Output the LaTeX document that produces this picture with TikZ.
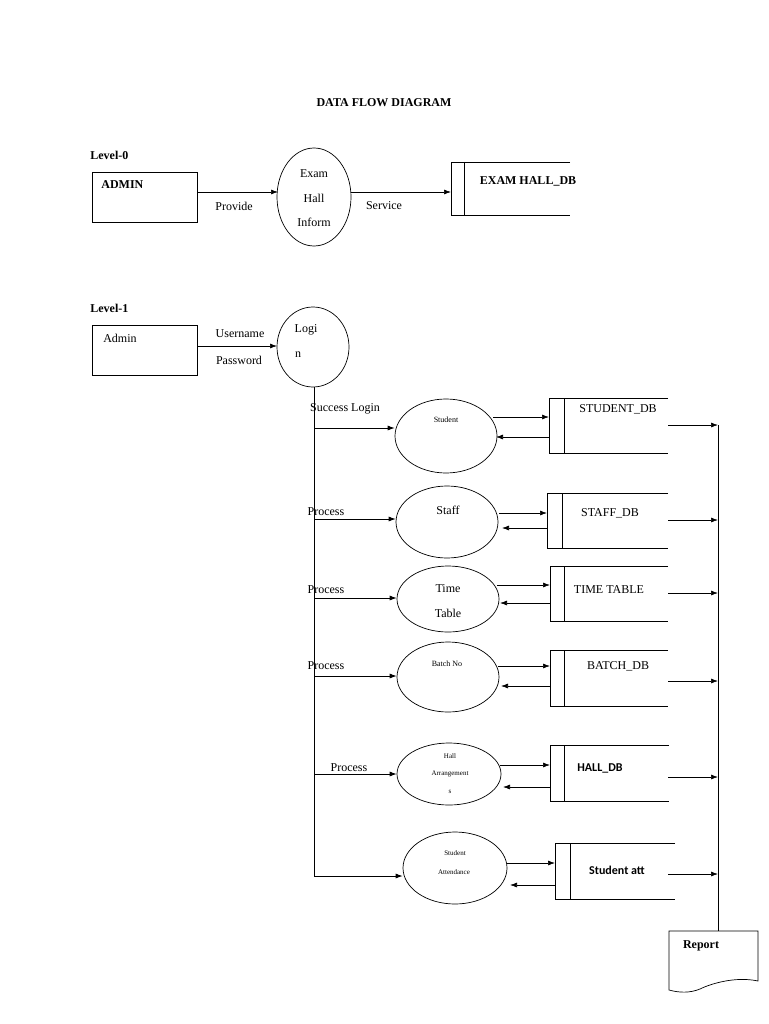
\documentclass[tikz,border=0pt]{standalone}
\usepackage{fontspec}
\setmainfont{Liberation Serif}
\newfontfamily\carlitofont{Carlito}
\usetikzlibrary{arrows.meta,shapes.geometric}
\begin{document}
\begin{tikzpicture}[x=1pt,y=-1pt,
  every node/.style={font=\fontsize{12}{14}\selectfont},
  proc/.style={draw,ellipse,inner sep=0pt},
  arr/.style={-{Latex[length=7pt,width=5pt]}},
  lbl/.style={inner sep=0pt},
  small/.style={font=\fontsize{8}{10}\selectfont, inner sep=0pt}]
\useasboundingbox (0,0) rectangle (768,1024);
\tikzset{every path/.style={line width=0.7pt}}
\newcommand{\dstore}[6]{% name, left, second, top, bottom, right
  \draw (#6,#4) -- (#2,#4) -- (#2,#5) -- (#6,#5);
  \draw (#3,#4) -- (#3,#5);
  \coordinate (#1L) at (#2,{(#4+#5)/2});}
\node[lbl,font=\bfseries\fontsize{12}{14}\selectfont] (title) at (384,103) {DATA FLOW DIAGRAM};
% Level 0
\node[lbl,font=\bfseries\fontsize{12}{14}\selectfont,anchor=west] (l0) at (90,155) {Level-0};
\node[draw,minimum width=105pt,minimum height=50pt] (admin0) at (144.5,197) {};
\node[lbl,font=\bfseries\fontsize{12}{14}\selectfont,anchor=west] (admint) at (101,185) {ADMIN};
\node[proc,minimum width=74pt,minimum height=98pt] (ehi) at (314,197) {};
\node[lbl] (e1) at (314,174) {Exam};
\node[lbl] (e2) at (314,198) {Hall};
\node[lbl] (e3) at (314,222) {Inform};
\dstore{db0}{451}{464}{162}{215}{570}
\node[lbl,font=\bfseries\fontsize{12}{14}\selectfont] (db0t) at (528,181) {EXAM HALL\_DB};
\coordinate (a0) at (197,192); \coordinate (a0e) at (278,192);
\draw[arr] (a0) -- (a0e);
\coordinate (s0) at (351,192); \coordinate (s0e) at (451,192);
\draw[arr] (s0) -- (s0e);
\node[lbl] (prov) at (234,206) {Provide};
\node[lbl] (serv) at (384,206) {Service};
% Level 1
\node[lbl,font=\bfseries\fontsize{12}{14}\selectfont,anchor=west] (l1) at (90,308) {Level-1};
\node[draw,minimum width=105pt,minimum height=50pt] (admin1) at (144.5,350) {};
\node[lbl] (admint1) at (120,338) {Admin};
\node[proc,minimum width=72pt,minimum height=80pt] (login) at (313,347) {};
\node[lbl] (lg1) at (306,330) {Logi};
\node[lbl] (lg2) at (298,355) {n};
\coordinate (u0) at (197,346); \coordinate (u1) at (277,346);
\draw[arr] (u0) -- (u1);
\node[lbl] (usr) at (240,334) {Username};
\node[lbl] (pwd) at (239,360) {Password};
\coordinate (vtop) at (314,387); \coordinate (vbot) at (314,876);
\draw (vtop) -- (vbot);
% processes
\node[proc,minimum width=102pt,minimum height=74pt] (p1) at (446,436) {};
\node[small] at (446,420) {Student};
\node[proc,minimum width=102pt,minimum height=72pt] (p2) at (447,522) {};
\node[lbl] at (448,510) {Staff};
\node[proc,minimum width=102pt,minimum height=66pt] (p3) at (448,599) {};
\node[lbl] at (448,589) {Time};
\node[lbl] at (448,613) {Table};
\node[proc,minimum width=102pt,minimum height=70pt] (p4) at (448,677) {};
\node[small] at (447,664) {Batch No};
\node[proc,minimum width=104pt,minimum height=62pt] (p5) at (449,774) {};
\node[small,font=\fontsize{7}{9}\selectfont] at (450,756) {Hall};
\node[small,font=\fontsize{7}{9}\selectfont] at (450,774) {Arrangement};
\node[small,font=\fontsize{7}{9}\selectfont] at (450,792) {s};
\node[proc,minimum width=104pt,minimum height=72pt] (p6) at (455,868) {};
\node[small,font=\fontsize{7}{9}\selectfont] at (455,853) {Student};
\node[small,font=\fontsize{7}{9}\selectfont] at (454,872) {Attendance};
% branch arrows
\foreach \y/\n in {428/p1,519/p2,598/p3,676/p4,774/p5,876/p6}{
  \coordinate (b\n) at (314,\y);
  \draw[arr] (b\n) -- (\n.west |- b\n);
}
\node[lbl] at (345,409) {Success Login};
\node[lbl] at (326,512) {Process};
\node[lbl] at (326,590) {Process};
\node[lbl] at (326,666) {Process};
\node[lbl] at (349,768) {Process};
% data stores
\dstore{d1}{549}{564}{398}{453}{668}
\node[lbl] at (618,409) {STUDENT\_DB};
\dstore{d2}{547}{562}{493}{548}{668}
\node[lbl] at (610,513) {STAFF\_DB};
\dstore{d3}{550}{564}{566}{621}{668}
\node[lbl] at (609,590) {TIME TABLE};
\dstore{d4}{550}{564}{650}{706}{668}
\node[lbl] at (618,666) {BATCH\_DB};
\dstore{d5}{550}{564}{745}{801}{669}
\node[lbl,font=\carlitofont\bfseries\fontsize{12}{14}\selectfont] at (600,768) {HALL\_DB};
\dstore{d6}{555}{570}{843}{899}{675}
\node[lbl,font=\carlitofont\bfseries\fontsize{12}{14}\selectfont] at (617,870) {Student att};
% flows process <-> store
\foreach \n/\yr/\yl/\xr/\xl in {p1/417/437/493/549, p2/513/528/499/547, p3/585/603/497/550, p4/666/686/498/550, p5/765/787/500/550, p6/863/885/507/555}{
  \coordinate (\n r0) at (\xr,\yr); \coordinate (\n r1) at (\xl,\yr);
  \draw[arr] (\n r0) -- (\n r1);
  \coordinate (\n l0) at (\xl,\yl); \coordinate (\n l1) at ({\xr+3},\yl);
  \draw[arr] (\n l0) -- (\n l1);
}
% outputs
\foreach \i/\y in {1/425,2/520,3/593,4/681,5/777,6/874}{
  \coordinate (o\i a) at (668,\y); \coordinate (o\i b) at (718,\y);
  \draw[arr] (o\i a) -- (o\i b);
}
\coordinate (rtop) at (718,425);
\coordinate (rjoin) at (718,931);
\draw (rtop) -- (rjoin);
\draw (669,931) -- (758,931) -- (758,981) .. controls (735,976) and (710,984) .. (700,989) .. controls (690,993) and (680,993) .. (669,990) -- cycle;
\node[lbl,font=\bfseries\fontsize{12}{14}\selectfont] (rep) at (701,946) {Report};
\end{tikzpicture}
\end{document}
